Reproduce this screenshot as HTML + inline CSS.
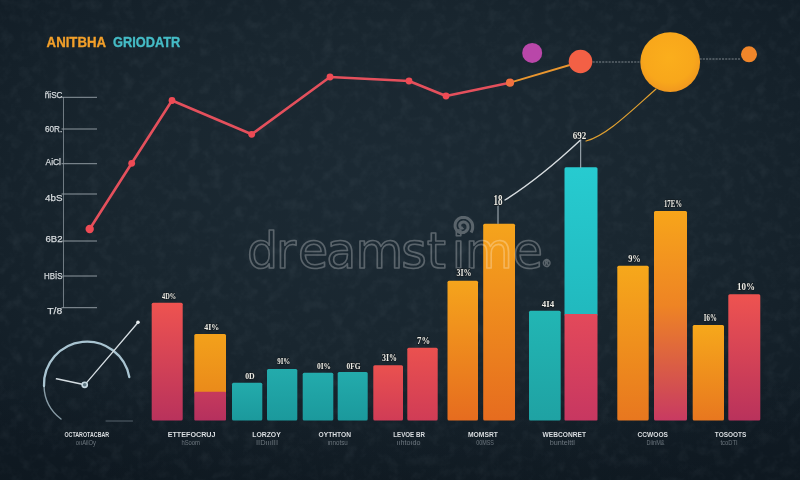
<!DOCTYPE html>
<html lang="en"><head><meta charset="utf-8"><title>Chart</title>
<style>
html,body{margin:0;padding:0;background:#18252e;}
body{width:800px;height:480px;overflow:hidden;font-family:"Liberation Sans",sans-serif;}
svg{display:block}
.v{font-family:"Liberation Serif",serif;font-weight:bold;fill:#ecebe4;stroke:#141c22;stroke-width:1.6;paint-order:stroke;}
.c{font-family:"Liberation Sans",sans-serif;font-weight:bold;fill:#d9dde0;}
.s{font-family:"Liberation Sans",sans-serif;fill:#6c767e;}
.y{font-family:"Liberation Sans",sans-serif;fill:#d6dbde;stroke:#d6dbde;stroke-width:0.25;}
</style></head><body>
<svg width="800" height="480" viewBox="0 0 800 480">
<defs>
<radialGradient id="bg" cx="50%" cy="40%" r="70%"><stop offset="0" stop-color="#1c2a34"/><stop offset="0.5" stop-color="#19262f"/><stop offset="1" stop-color="#111c25"/></radialGradient>
<linearGradient id="bgb" x1="0" y1="0" x2="0" y2="1"><stop offset="0.78" stop-color="#080e14" stop-opacity="0"/><stop offset="1" stop-color="#080e14" stop-opacity="0.28"/></linearGradient>
<filter id="noise" x="0" y="0" width="100%" height="100%"><feTurbulence type="fractalNoise" baseFrequency="0.09" numOctaves="3" seed="7"/><feColorMatrix type="matrix" values="0 0 0 0 0.55  0 0 0 0 0.65  0 0 0 0 0.72  0.9 0.9 0.9 0 -1.25"/></filter>
<linearGradient id="gRed" x1="0" y1="0" x2="0" y2="1"><stop offset="0" stop-color="#ee5350"/><stop offset="1" stop-color="#b9325c"/></linearGradient>
<linearGradient id="gRed2" x1="0" y1="0" x2="0" y2="1"><stop offset="0" stop-color="#e3495a"/><stop offset="1" stop-color="#c73761"/></linearGradient>
<linearGradient id="gMag" x1="0" y1="0" x2="0" y2="1"><stop offset="0" stop-color="#c63a5c"/><stop offset="1" stop-color="#b5305e"/></linearGradient>
<linearGradient id="gOr" x1="0" y1="0" x2="0" y2="1"><stop offset="0" stop-color="#f6a81b"/><stop offset="1" stop-color="#e8771f"/></linearGradient>
<linearGradient id="gOr2" x1="0" y1="0" x2="0" y2="1"><stop offset="0" stop-color="#f3a11b"/><stop offset="1" stop-color="#ea8a1a"/></linearGradient>
<linearGradient id="gOrP" x1="0" y1="0" x2="0" y2="1"><stop offset="0" stop-color="#f7a51a"/><stop offset="0.45" stop-color="#ee8424"/><stop offset="1" stop-color="#c83a62"/></linearGradient>
<linearGradient id="gTeal" x1="0" y1="0" x2="0" y2="1"><stop offset="0" stop-color="#23abac"/><stop offset="1" stop-color="#1b999c"/></linearGradient>
<linearGradient id="gTealT" x1="0" y1="0" x2="0" y2="1"><stop offset="0" stop-color="#27cbd0"/><stop offset="1" stop-color="#21b9be"/></linearGradient>
<radialGradient id="gSun" cx="48%" cy="42%" r="60%"><stop offset="0" stop-color="#fbae1c"/><stop offset="0.7" stop-color="#f8a71b"/><stop offset="1" stop-color="#f0961f"/></radialGradient>
<linearGradient id="gRed3" x1="0" y1="0" x2="0" y2="1"><stop offset="0" stop-color="#ea514f"/><stop offset="1" stop-color="#d03c56"/></linearGradient>
<linearGradient id="gTeal2" x1="0" y1="0" x2="0" y2="1"><stop offset="0" stop-color="#22b6b4"/><stop offset="1" stop-color="#1fa2a3"/></linearGradient>
<linearGradient id="gOr3" x1="0" y1="0" x2="0" y2="1"><stop offset="0" stop-color="#f5a41c"/><stop offset="1" stop-color="#e66c1f"/></linearGradient>
</defs>
<rect width="800" height="480" fill="url(#bg)"/>
<rect width="800" height="480" fill="url(#bgb)"/>
<rect width="800" height="480" filter="url(#noise)" opacity="0.07"/>

<text x="46.6" y="47.1" font-size="15" font-weight="bold" fill="#f3a02a" textLength="59.4" lengthAdjust="spacingAndGlyphs" stroke="#f3a02a" stroke-width="0.35">ANITBHA</text>
<text x="113" y="47.1" font-size="15" font-weight="bold" fill="#45bcc6" textLength="67.3" lengthAdjust="spacingAndGlyphs" stroke="#45bcc6" stroke-width="0.35">GRIODATR</text>
<g stroke="#8e989f" stroke-width="1" fill="none">
<path d="M63.5 97 V308" stroke="#6f7a82"/>
<path d="M61.5 97.3 H97"/>
<path d="M61.5 129.0 H97"/>
<path d="M61.5 163.7 H97"/>
<path d="M61.5 194.0 H97"/>
<path d="M61.5 241.0 H97"/>
<path d="M61.5 276.0 H97"/>
<path d="M61.5 307.7 H97"/>
</g>
<text class="y" x="44.8" y="97.8" font-size="9.6" textLength="17.7" lengthAdjust="spacingAndGlyphs">ñiSC</text>
<text class="y" x="45" y="132.0" font-size="9.6" textLength="17.2" lengthAdjust="spacingAndGlyphs">60R.</text>
<text class="y" x="45.5" y="164.5" font-size="9.6" textLength="15.5" lengthAdjust="spacingAndGlyphs">AiCl</text>
<text class="y" x="45" y="201.0" font-size="9.6" textLength="17.5" lengthAdjust="spacingAndGlyphs">4bS</text>
<text class="y" x="45.5" y="241.5" font-size="9.6" textLength="17.0" lengthAdjust="spacingAndGlyphs">6B2</text>
<text class="y" x="44" y="279.0" font-size="9.6" textLength="18.5" lengthAdjust="spacingAndGlyphs">HBİS</text>
<text class="y" x="47.2" y="314.0" font-size="9.6" textLength="15.0" lengthAdjust="spacingAndGlyphs">T/8</text>
<rect x="151.7" y="302.7" width="31.0" height="117.8" rx="1.5" fill="url(#gRed)"/>
<rect x="194.3" y="334.0" width="31.7" height="59.7" rx="1.5" fill="url(#gOr2)"/>
<rect x="194.3" y="391.7" width="31.7" height="28.8" rx="1" fill="url(#gMag)"/>
<rect x="232.0" y="382.7" width="30.3" height="37.8" rx="1.5" fill="url(#gTeal)"/>
<rect x="267.0" y="369.0" width="30.3" height="51.5" rx="1.5" fill="url(#gTeal)"/>
<rect x="302.7" y="372.7" width="30.6" height="47.8" rx="1.5" fill="url(#gTeal)"/>
<rect x="337.7" y="372.0" width="30.0" height="48.5" rx="1.5" fill="url(#gTeal)"/>
<rect x="373.3" y="365.3" width="29.7" height="55.2" rx="1.5" fill="url(#gRed3)"/>
<rect x="407.3" y="347.7" width="30.4" height="72.8" rx="1.5" fill="url(#gRed3)"/>
<rect x="447.5" y="280.7" width="30.5" height="139.8" rx="1.5" fill="url(#gOr3)"/>
<rect x="483.2" y="223.7" width="31.8" height="196.8" rx="1.5" fill="url(#gOr3)"/>
<rect x="529.0" y="310.7" width="31.7" height="109.8" rx="1.5" fill="url(#gTeal2)"/>
<rect x="564.5" y="167.3" width="33.0" height="148.7" rx="1.5" fill="url(#gTealT)"/>
<rect x="564.5" y="314.0" width="33.0" height="106.5" rx="1" fill="url(#gRed2)"/>
<rect x="617.3" y="265.7" width="31.4" height="154.8" rx="1.5" fill="url(#gOr)"/>
<rect x="654.0" y="211.0" width="33.0" height="209.5" rx="1.5" fill="url(#gOrP)"/>
<rect x="692.7" y="325.0" width="31.3" height="95.5" rx="1.5" fill="url(#gOr)"/>
<rect x="728.3" y="294.3" width="32.0" height="126.2" rx="1.5" fill="url(#gRed)"/>
<g fill="none" stroke="#ffffff" stroke-width="1.6" opacity="0.27" stroke-linejoin="round"><text y="268" font-size="49" font-family="'DejaVu Sans','Liberation Sans',sans-serif" x="246.9 276 297.9 326.3 355.5 401.2 426.7 451.7 465 512.7">dreamstime</text><text x="543" y="267" font-size="10" stroke-width="0.9">®</text><path d="M463.1 227.6 L462.9 227.8 L462.5 228.0 L462.1 228.1 L461.7 228.0 L461.3 227.9 L460.8 227.7 L460.4 227.4 L460.1 226.9 L459.9 226.4 L459.7 225.8 L459.7 225.2 L459.8 224.6 L460.1 223.9 L460.5 223.3 L461.0 222.8 L461.7 222.4 L462.5 222.2 L463.3 222.0 L464.1 222.1 L465.0 222.3 L465.8 222.8 L466.6 223.4 L467.2 224.1 L467.7 225.0 L467.9 226.0 L468.0 227.1 L467.9 228.2 L467.5 229.2 L466.9 230.2 L466.2 231.1 L465.2 231.8 L464.1 232.4 L462.8 232.6 L461.5 232.7 L460.2 232.5 L458.9 232.0 L457.7 231.2 L456.7 230.2 L455.9 229.0 L455.3 227.7 L455.1 226.2 L455.1 224.6 L455.4 223.1 L456.0 221.6 L456.9 220.3 L458.2 219.1 L459.6 218.2 L461.2 217.6 L462.9 217.4 L464.7 217.4 L466.5 217.9 L468.1 218.6 L469.6 219.8 L470.9 221.2 L471.9 222.8 L472.5 224.7 L472.7 226.7 L472.6 228.7 L472.0 230.6 L471.1 232.5" stroke-width="3"/></g>
<g fill="none" stroke-linecap="round">
<path d="M510 82.7 L580 62" stroke="#e9962f" stroke-width="1.9"/>
<path d="M593 62 H639" stroke="#b8bdc0" stroke-width="0.8" stroke-dasharray="1.3 1.9" opacity="0.8"/>
<path d="M700 59 H741" stroke="#b8bdc0" stroke-width="0.8" stroke-dasharray="1.3 1.9" opacity="0.8"/>
<path d="M656 89 C630 112 606 136 586 141" stroke="#e0a030" stroke-width="1.2"/>
<path d="M505 200 Q540 178 580.5 140" stroke="#d8dde0" stroke-width="1.4"/>
<path d="M580.7 140 V167.5 M498 206 V223.5" stroke="#aeb8bf" stroke-width="1"/>
</g>
<polyline points="89.7,229 131.7,163.3 172,100.5 251.7,134.3 330,77 409,81 446,96 510,82.7" fill="none" stroke="#e4505c" stroke-width="2.6" stroke-linejoin="round" stroke-linecap="round"/>
<circle cx="89.7" cy="229" r="4.2" fill="#ee4b55"/>
<circle cx="131.7" cy="163.3" r="3.4" fill="#ee4b55"/>
<circle cx="172" cy="100.5" r="3.4" fill="#ee4b55"/>
<circle cx="251.7" cy="134.3" r="3.4" fill="#ee4b55"/>
<circle cx="330" cy="77" r="3.4" fill="#ee4b55"/>
<circle cx="409" cy="81" r="3.4" fill="#ee4b55"/>
<circle cx="446" cy="96" r="3.4" fill="#ee4b55"/>
<circle cx="510" cy="82.7" r="4.1" fill="#f07040"/>
<circle cx="532.2" cy="52.9" r="10" fill="#b947a9"/>
<circle cx="580.5" cy="61.5" r="11.8" fill="#f36045"/>
<circle cx="670.2" cy="62.1" r="29.9" fill="url(#gSun)"/>
<circle cx="749" cy="54.3" r="8" fill="#f0862a"/>
<g fill="none" stroke="#b9d0dc" stroke-linecap="round">
<path d="M129.3 377 A43 43 0 0 0 44 386" stroke-width="2.3" stroke="#a9c4d1"/>
<path d="M44 386 A43 43 0 0 0 61 419" stroke-width="1.4" opacity="0.7"/>
<path d="M84.7 384.8 L138 322.5" stroke-width="1.3" stroke="#d5dde2"/>
<path d="M84.7 384.8 L56.5 378.8" stroke-width="1.6" stroke="#d5dde2"/>
<path d="M106 421 H132.5" stroke-width="1" stroke="#56636c"/>
</g>
<circle cx="84.7" cy="384.8" r="2.6" fill="#5f7682" stroke="#c5d6df" stroke-width="1.6"/>
<circle cx="138" cy="322.3" r="1.8" fill="#e8eef0"/>
<text class="v" x="162.0" y="298.8" font-size="9.1" textLength="14" lengthAdjust="spacingAndGlyphs">4D%</text>
<text class="v" x="204.3" y="330.0" font-size="9.1" textLength="15" lengthAdjust="spacingAndGlyphs">4I%</text>
<text class="v" x="245.2" y="379.3" font-size="8.3" textLength="9.5" lengthAdjust="spacingAndGlyphs">0D</text>
<text class="v" x="277.2" y="364.2" font-size="8.9" textLength="13" lengthAdjust="spacingAndGlyphs">9I%</text>
<text class="v" x="317.0" y="368.5" font-size="9.1" textLength="14" lengthAdjust="spacingAndGlyphs">0I%</text>
<text class="v" x="346.5" y="368.5" font-size="9.1" textLength="14" lengthAdjust="spacingAndGlyphs">0FG</text>
<text class="v" x="382.0" y="361.0" font-size="9.5" textLength="15" lengthAdjust="spacingAndGlyphs">3I%</text>
<text class="v" x="417.1" y="344.0" font-size="9.4" textLength="13" lengthAdjust="spacingAndGlyphs">7%</text>
<text class="v" x="456.5" y="276.0" font-size="9.5" textLength="15" lengthAdjust="spacingAndGlyphs">3I%</text>
<text class="v" x="541.8" y="307.0" font-size="9.1" textLength="12.5" lengthAdjust="spacingAndGlyphs">4I4</text>
<text class="v" x="628.2" y="261.8" font-size="9.5" textLength="12.5" lengthAdjust="spacingAndGlyphs">9%</text>
<text class="v" x="664.0" y="206.8" font-size="9.5" textLength="18" lengthAdjust="spacingAndGlyphs">17E%</text>
<text class="v" x="703.8" y="320.5" font-size="9.8" textLength="13" lengthAdjust="spacingAndGlyphs">I6%</text>
<text class="v" x="737.0" y="290.2" font-size="9.7" textLength="18" lengthAdjust="spacingAndGlyphs">10%</text>
<text class="v" x="493.5" y="205.3" font-size="15" textLength="9" lengthAdjust="spacingAndGlyphs">18</text>
<text class="v" x="572.7" y="138.8" font-size="11" textLength="13.5" lengthAdjust="spacingAndGlyphs">692</text>
<text class="c" x="64.4" y="437.1" font-size="7.3" textLength="44.8" lengthAdjust="spacingAndGlyphs">OCTAROTACBAR</text>
<text class="s" x="75.7" y="444.9" font-size="6.4" textLength="20.3" lengthAdjust="spacingAndGlyphs">oııAilOy</text>
<text class="c" x="167.7" y="437.1" font-size="7.3" textLength="47.8" lengthAdjust="spacingAndGlyphs">ETTEFOCRUJ</text>
<text class="s" x="181.4" y="444.9" font-size="6.4" textLength="18.6" lengthAdjust="spacingAndGlyphs">hSoom</text>
<text class="c" x="252.2" y="437.1" font-size="7.3" textLength="28.6" lengthAdjust="spacingAndGlyphs">LORZOY</text>
<text class="s" x="256" y="444.9" font-size="6.4" textLength="22.0" lengthAdjust="spacingAndGlyphs">IIDıııIII</text>
<text class="c" x="318.6" y="437.1" font-size="7.3" textLength="32.4" lengthAdjust="spacingAndGlyphs">OYTHTON</text>
<text class="s" x="327.4" y="444.9" font-size="6.4" textLength="20.4" lengthAdjust="spacingAndGlyphs">ınnotsu</text>
<text class="c" x="393.3" y="437.1" font-size="7.3" textLength="31.6" lengthAdjust="spacingAndGlyphs">LEVOE BR</text>
<text class="s" x="396.6" y="444.9" font-size="6.4" textLength="24.0" lengthAdjust="spacingAndGlyphs">ııhtoıdo</text>
<text class="c" x="468" y="437.1" font-size="7.3" textLength="30.0" lengthAdjust="spacingAndGlyphs">MOMSRT</text>
<text class="s" x="476.2" y="444.9" font-size="6.4" textLength="17.8" lengthAdjust="spacingAndGlyphs">00MSS</text>
<text class="c" x="542.6" y="437.1" font-size="7.3" textLength="43.4" lengthAdjust="spacingAndGlyphs">WEBCONRET</text>
<text class="s" x="549.7" y="444.9" font-size="6.4" textLength="25.3" lengthAdjust="spacingAndGlyphs">buntelttl</text>
<text class="c" x="637.5" y="437.1" font-size="7.3" textLength="30.5" lengthAdjust="spacingAndGlyphs">CCWOOS</text>
<text class="s" x="646.6" y="444.9" font-size="6.4" textLength="17.9" lengthAdjust="spacingAndGlyphs">DiinM&amp;</text>
<text class="c" x="714.8" y="437.1" font-size="7.3" textLength="31.6" lengthAdjust="spacingAndGlyphs">TOSOOTS</text>
<text class="s" x="720.4" y="444.9" font-size="6.4" textLength="17.2" lengthAdjust="spacingAndGlyphs">tcoDTI</text>
</svg>
</body></html>
